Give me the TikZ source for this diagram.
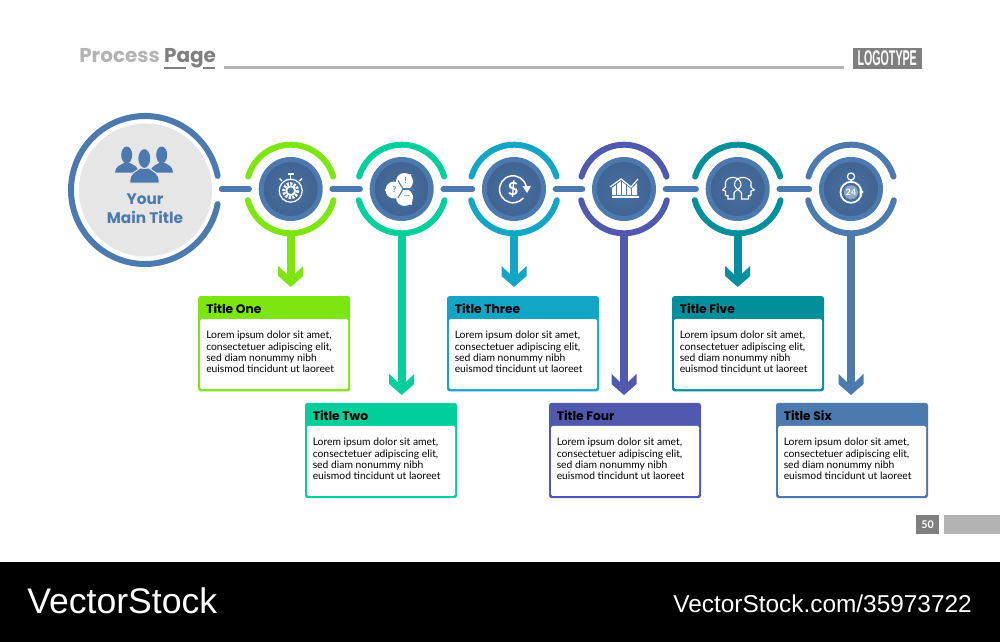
\documentclass[tikz,border=0pt]{standalone}
\usepackage{fontspec}
\setmainfont{Lato}
\newfontfamily\headfont{Poppins}
\newfontfamily\logofont[FakeStretch=0.5]{Liberation Sans}
\newfontfamily\stockfont{Liberation Sans}
\usetikzlibrary{arrows.meta, positioning}

\definecolor{cLime}{RGB}{125,230,17}
\definecolor{cMint}{RGB}{0,206,155}
\definecolor{cCyan}{RGB}{18,165,198}
\definecolor{cIndigo}{RGB}{81,89,174}
\definecolor{cTeal}{RGB}{0,143,155}
\definecolor{cSteel}{RGB}{77,122,174}
\definecolor{cSteelMid}{RGB}{74,113,160}
\definecolor{cSteelDark}{RGB}{62,98,146}
\definecolor{cGreyBar}{RGB}{179,179,179}
\definecolor{cGreyBox}{RGB}{127,127,127}
\definecolor{cDisc}{RGB}{230,230,230}

\tikzset{
  hub/.style={circle,inner sep=0pt,minimum size=48pt,fill=cSteel,
    path picture={\shade[inner color=cSteelMid,outer color=cSteelDark] (path picture bounding box.center) circle (27);}},
  link/.style={draw=cSteel,line width=4.5pt,line cap=round,shorten <=7.1pt,shorten >=7.1pt},
  stem/.style={line width=6pt,shorten <=7.5pt,shorten >=7.5pt},
  panel/.style={rectangle,rounded corners=2pt,inner sep=0pt,minimum width=114pt,minimum height=71.5pt},
  panelbody/.style={rectangle,rounded corners=1.2pt,inner sep=0pt,fill=white,minimum width=111pt,minimum height=52.5pt},
  paneltitle/.style={anchor=west,inner sep=0.75pt,font=\headfont\fontsize{9.2}{10}\selectfont\bfseries},
  paneltext/.style={anchor=north west,inner sep=0.75pt,align=left,font=\fontsize{7.75}{8.5}\selectfont},
  ringpair/.pic={
    \path[pic actions,line width=4.5pt,line cap=round,fill=none] (16.3:44.3) arc (16.3:163.7:44.3);
    \path[pic actions,line width=4.5pt,line cap=round,fill=none] (-14.7:44.3) arc (-14.7:-165.3:44.3);},
  chevron/.pic={
    \path[pic actions] (-12.5,21) -- (-4,13) -- (4,13) -- (12.5,21) -- (12.5,11) -- (0,0) -- (-12.5,11) -- cycle;},
  icon/.style={draw=white,line width=0.9pt,fill=none},
}

\begin{document}
\begin{tikzpicture}[x=0.75pt,y=0.75pt,yscale=-1,xscale=1]
\useasboundingbox (0,0) rectangle (1000,642);

%Footer band
\fill [black] (0,562) rectangle (1000,642);
\node (stockname) [anchor=base west,inner sep=0pt,text=white,font=\stockfont\fontsize{26.7}{30}\selectfont] at (27,613) {VectorStock};
\node (stockurl) [anchor=base east,inner sep=0pt,text=white,font=\stockfont\fontsize{18.3}{20}\selectfont] at (972,612.3) {VectorStock.com/35973722};

%Header
\node (headtext) [anchor=base west,inner sep=0pt,font=\headfont\fontsize{15}{18}\selectfont\bfseries] at (79,63) {\textcolor{cGreyBar}{Process} \textcolor{cGreyBox}{Page}};
\fill [cGreyBox] (164,67) rectangle (186,69.3);
\fill [cGreyBox] (203,67) rectangle (215,69.3);
\coordinate (ruleA) at (224,67.7);
\coordinate (ruleB) at (843.5,67.7);
\draw [cGreyBar,line width=2.4pt] (ruleA) -- (ruleB);
\node (logotype) [fill=cGreyBox,text=white,inner sep=0pt,minimum width=51.8pt,minimum height=16.2pt,font=\logofont\fontsize{16}{18}\selectfont\bfseries] at (887.2,58.5) {LOGOTYPE};

%Page number
\node (pagenum) [fill=cGreyBox,text=white,inner sep=0pt,minimum width=17.2pt,minimum height=14.2pt,font=\fontsize{8}{10}\selectfont\bfseries] at (927.5,524.8) {50};
\fill [cGreyBar] (944,515.3) rectangle (1000,534.3);

%Main circle
\node (main) [circle,fill=cDisc,inner sep=0pt,minimum size=99.8pt] at (145.5,190) {};
\draw [cSteel,line width=4.5pt,line cap=round] (145,190) ++(-11:74) arc (-11:-349:74);

%Shape: people
\fill [cSteel] (126.7,155) ellipse (5.5 and 8.5);
\fill [cSteel] (115,172.7) .. controls (115,166) and (121,165) .. (124,163) -- (130,163) .. controls (133,165) and (138,166) .. (139,172.7) -- cycle;
\fill [cSteel] (161.7,155) ellipse (5.5 and 8.5);
\fill [cSteel] (150,172.7) .. controls (151,166) and (156,165) .. (159,163) -- (165,163) .. controls (168,165) and (173,166) .. (173,172.7) -- cycle;
\fill [cSteel,draw=cDisc,line width=0.75pt] (130,183) .. controls (129,172) and (136,172) .. (140,168) -- (149,168) .. controls (153,172) and (160,172) .. (159,183) -- cycle;
\fill [cSteel,draw=cDisc,line width=0.75pt] (144.3,158.5) ellipse (6.5 and 10);

% Text Node
\node (maintitle) [inner sep=0.75pt,align=center,text=cSteel,font=\headfont\fontsize{11.5}{14.2}\selectfont\bfseries] at (145,209) {Your\\Main Title};

%Hubs
\node (hub1) [hub] at (290.7,189) {};
\node (hub2) [hub] at (401.7,189) {};
\node (hub3) [hub] at (514,189) {};
\node (hub4) [hub] at (624,189) {};
\node (hub5) [hub] at (737.7,189) {};
\node (hub6) [hub] at (851,189) {};

%Rings
\pic [draw=cLime] at (hub1) {ringpair};
\pic [draw=cMint] at (hub2) {ringpair};
\pic [draw=cCyan] at (hub3) {ringpair};
\pic [draw=cIndigo] at (hub4) {ringpair};
\pic [draw=cTeal] at (hub5) {ringpair};
\pic [draw=cSteel] at (hub6) {ringpair};

%Straight Lines
\draw [link] (main.east |- hub1) -- (hub1);
\draw [link] (hub1) -- (hub2);
\draw [link] (hub2) -- (hub3);
\draw [link] (hub3) -- (hub4);
\draw [link] (hub4) -- (hub5);
\draw [link] (hub5) -- (hub6);

%Arrow ends
\coordinate (tip1) at (290.7,287);
\coordinate (tip2) at (401.7,395);
\coordinate (tip3) at (514,287);
\coordinate (tip4) at (624,395);
\coordinate (tip5) at (737.7,287);
\coordinate (tip6) at (851,395);

\draw [stem,cLime] (hub1.south) -- (tip1);
\draw [stem,cMint] (hub2.south) -- (tip2);
\draw [stem,cCyan] (hub3.south) -- (tip3);
\draw [stem,cIndigo] (hub4.south) -- (tip4);
\draw [stem,cTeal] (hub5.south) -- (tip5);
\draw [stem,cSteel] (hub6.south) -- (tip6);

\pic [fill=cLime] at (tip1) {chevron};
\pic [fill=cMint] at (tip2) {chevron};
\pic [fill=cCyan] at (tip3) {chevron};
\pic [fill=cIndigo] at (tip4) {chevron};
\pic [fill=cTeal] at (tip5) {chevron};
\pic [fill=cSteel] at (tip6) {chevron};

%Icon: stopwatch with gear
\draw [icon] (290.7,190.7) circle (11.5);
\draw [icon,line width=1.5pt] (287.5,173.5) -- (294,173.5);
\draw [icon] (290.7,174) -- (290.7,179);
\draw [icon] (279.5,178.5) -- (282,181);
\draw [icon] (302,178.5) -- (299.5,181);
\draw [icon,line width=2.2pt,dash pattern=on 1.6pt off 1.1pt] (290.7,190.7) circle (7);
\draw [icon,line width=1.4pt] (290.7,190.7) circle (4.4);

%Icon: speech bubbles
\fill [white] (404.5,181.5) circle (8.5);
\fill [white] (411,174) -- (396.5,178) -- (412.5,184) -- cycle;
\fill [white] (394,190) circle (8.5);
\fill [white] (385,190) -- (392,181.6) -- (392,198.4) -- cycle;
\fill [white] (404.5,197.5) circle (8.5);
\fill [white] (411.7,205) -- (396.5,201) -- (412.7,195) -- cycle;
\draw [cSteel,line width=0.8pt] (403,189) -- (413.5,189);
\draw [cSteel,line width=0.8pt] (403,189) -- (398,180.5);
\draw [cSteel,line width=0.8pt] (403,189) -- (398,198);
\node (ask) [inner sep=0pt,text=cSteel,font=\fontsize{6}{6}\selectfont\bfseries] at (394.5,190) {?};
\node (say) [inner sep=0pt,text=cSteel,font=\fontsize{6}{6}\selectfont\bfseries] at (405.5,181) {!};
\node (dots) [inner sep=0pt,text=cSteel,font=\fontsize{6}{6}\selectfont\bfseries] at (407,196) {...};

%Icon: dollar
\draw [icon,line width=1.1pt] (513,189.3) ++(-10:13.5) arc (-10:-320:13.5);
\fill [white] (522.5,186) -- (531,186) -- (527,193) -- cycle;
\node (dollar) [inner sep=0pt,text=white,font=\fontsize{13.5}{15}\selectfont\bfseries] at (513,189.5) {\$};

%Icon: chart
\fill [white] (612,188) -- (621,181) -- (631,189) -- (637,183) -- (637,195) -- (612,195) -- cycle;
\draw [icon] (610,187) -- (621,179) -- (631,187) -- (638,179);
\draw [cSteel,line width=0.75pt] (616,184) -- (616,195);
\draw [cSteel,line width=0.75pt] (621,180) -- (621,195);
\draw [cSteel,line width=0.75pt] (626,184) -- (626,195);
\draw [cSteel,line width=0.75pt] (631,188) -- (631,195);
\draw [icon] (611.5,197) -- (638.5,197);

%Icon: two heads
\draw [icon,line width=0.8pt] (734,199) -- (734,193) .. controls (734,191) and (741,189) .. (741,185) .. controls (741,176) and (728,175) .. (725.5,182) -- (725.5,187) -- (722.7,190) -- (725.5,191) -- (725.5,195) .. controls (726,196) and (727,196) .. (728,195.5) -- (728,199) -- cycle;
\draw [icon,line width=0.8pt] (741.5,199) -- (741.5,193) .. controls (741.5,191) and (734.5,189) .. (734.5,185) .. controls (734.5,176) and (747.5,175) .. (751,182) -- (751,187) -- (754.3,190) -- (751,191) -- (751,195) .. controls (750.5,196) and (749.5,196) .. (748.5,195.5) -- (748.5,199) -- cycle;

%Icon: stopwatch 24
\draw [icon,line width=1.3pt] (851,192.3) circle (10.5);
\draw [icon] (851,176.5) circle (3.6);
\draw [icon] (851,180.1) -- (851,182);
\fill [white,opacity=0.4] (851,192.3) circle (7);
\fill [white] (859.5,188) -- (863.5,192) -- (859.5,196) -- cycle;
\node (watchnum) [inner sep=0pt,text=white,font=\fontsize{6.5}{6.5}\selectfont\bfseries] at (851,192.3) {24};

%Panels
\node (panel1) [panel,fill=cLime] at (274.2,343.7) {};
\node (panel2) [panel,fill=cMint] at (381,450.5) {};
\node (panel3) [panel,fill=cCyan] at (523,343.7) {};
\node (panel4) [panel,fill=cIndigo] at (625,450.5) {};
\node (panel5) [panel,fill=cTeal] at (748,343.7) {};
\node (panel6) [panel,fill=cSteel] at (852,450.5) {};

\node (body1) [panelbody,below=17.3pt of panel1.north] {};
\node (body2) [panelbody,below=17.3pt of panel2.north] {};
\node (body3) [panelbody,below=17.3pt of panel3.north] {};
\node (body4) [panelbody,below=17.3pt of panel4.north] {};
\node (body5) [panelbody,below=17.3pt of panel5.north] {};
\node (body6) [panelbody,below=17.3pt of panel6.north] {};

% Text Node
\node (title1) [paneltitle] at (205,309) {Title One};
\node (title2) [paneltitle] at (311.5,416) {Title Two};
\node (title3) [paneltitle] at (453.5,309) {Title Three};
\node (title4) [paneltitle] at (555.5,416) {Title Four};
\node (title5) [paneltitle] at (678.5,309) {Title Five};
\node (title6) [paneltitle] at (782.5,416) {Title Six};

% Text Node
\node (text1) [paneltext] at (205,330) {Lorem ipsum dolor sit amet,\\consectetuer adipiscing elit,\\sed diam nonummy nibh\\euismod tincidunt ut laoreet};
\node (text2) [paneltext] at (311.5,437) {Lorem ipsum dolor sit amet,\\consectetuer adipiscing elit,\\sed diam nonummy nibh\\euismod tincidunt ut laoreet};
\node (text3) [paneltext] at (453.5,330) {Lorem ipsum dolor sit amet,\\consectetuer adipiscing elit,\\sed diam nonummy nibh\\euismod tincidunt ut laoreet};
\node (text4) [paneltext] at (555.5,437) {Lorem ipsum dolor sit amet,\\consectetuer adipiscing elit,\\sed diam nonummy nibh\\euismod tincidunt ut laoreet};
\node (text5) [paneltext] at (678.5,330) {Lorem ipsum dolor sit amet,\\consectetuer adipiscing elit,\\sed diam nonummy nibh\\euismod tincidunt ut laoreet};
\node (text6) [paneltext] at (782.5,437) {Lorem ipsum dolor sit amet,\\consectetuer adipiscing elit,\\sed diam nonummy nibh\\euismod tincidunt ut laoreet};

\end{tikzpicture}
\end{document}
